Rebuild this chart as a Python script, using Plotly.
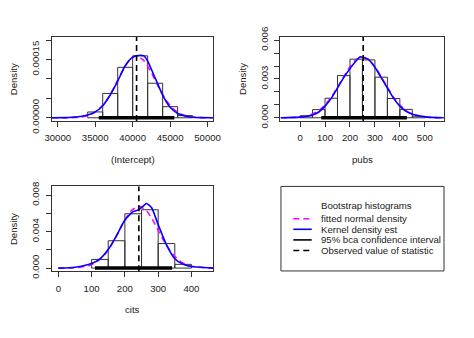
import plotly.graph_objects as go

# ---------------- data ----------------
# Panel 1: (Intercept)
int_bin_left = [34000, 36000, 38000, 40000, 42000, 44000, 46000]
int_bin_width = 2000
int_density = [1.5e-5, 6.27e-5, 1.30e-4, 1.595e-4, 8.9e-5, 2.86e-5, 5.6e-6]
int_norm_x = [29200, 31500, 32500, 33500, 34500, 35500, 36500, 37500, 38500, 39500, 40500,
              41500, 42500, 43500, 44500, 45500, 46500, 47500, 48500, 49500, 50700]
int_norm_y = [0, 0.02e-5, 0.09e-5, 0.32e-5, 0.90e-5, 2.16e-5, 4.43e-5, 7.77e-5, 11.59e-5, 14.73e-5, 15.96e-5,
              14.73e-5, 11.59e-5, 7.77e-5, 4.43e-5, 2.16e-5, 0.90e-5, 0.32e-5, 0.09e-5, 0.02e-5, 0]
int_kde_x = [29200, 31000, 32000, 33000, 34000, 35000, 36000, 37000, 38000, 39000, 40000, 40500,
             41000, 41500, 42000, 43000, 44000, 45000, 46000, 47000, 48000, 49000, 50700]
int_kde_y = [0, 0.04e-5, 0.16e-5, 0.32e-5, 0.71e-5, 1.51e-5, 3.10e-5, 5.87e-5, 9.44e-5, 13.41e-5, 15.63e-5, 15.95e-5,
             16.11e-5, 15.95e-5, 14.60e-5, 10.24e-5, 5.87e-5, 2.70e-5, 1.11e-5, 0.48e-5, 0.16e-5, 0.04e-5, 0]
int_ci = [35470, 45560]
int_obs = 40520

# Panel 2: pubs
pubs_bin_left = [0, 50, 100, 150, 200, 250, 300, 350, 400, 450]
pubs_bin_width = 50
pubs_density = [0.00016, 0.00063, 0.00151, 0.00326, 0.00453, 0.00447, 0.00314, 0.00149, 0.00065, 0.00012]
pubs_norm_x = [-78, -50, 0, 25, 50, 75, 100, 125, 150, 175, 200, 225, 250, 275, 300, 325, 350,
               375, 400, 425, 450, 500, 550, 576]
pubs_norm_y = [0.000003, 0.000009, 0.000062, 0.00014, 0.00030, 0.00056, 0.00099, 0.00159, 0.00235, 0.00318,
               0.00395, 0.00449, 0.00469, 0.00449, 0.00395, 0.00318, 0.00235, 0.00159, 0.00099, 0.00056,
               0.00030, 0.000062, 0.000009, 0.000004]
pubs_kde_x = [-78, 0, 50, 75, 100, 125, 150, 175, 200, 225, 240, 250, 275, 300, 325, 350, 375, 400, 425,
              450, 500, 576]
pubs_kde_y = [0, 0.00005, 0.00022, 0.00045, 0.0009, 0.0015, 0.0023, 0.0031, 0.0038, 0.0044, 0.0047, 0.00468,
              0.0045, 0.0039, 0.0031, 0.0023, 0.0015, 0.0009, 0.0005, 0.00028, 0.00007, 0]
pubs_ci = [85, 428]
pubs_obs = 253

# Panel 3: cits
cits_bin_left = [100, 150, 200, 250, 300, 350]
cits_bin_width = 50
cits_density = [0.00095, 0.0030, 0.00596, 0.0064, 0.00269, 0.00041]
cits_norm_x = [0, 42, 92, 117, 142, 167, 192, 217, 242, 267, 292, 317, 342, 367, 392, 442, 466]
cits_norm_y = [0.000001, 0.00002, 0.00026, 0.00071, 0.00160, 0.0030, 0.00473, 0.00621, 0.0068,
               0.00621, 0.00473, 0.0030, 0.00160, 0.00071, 0.00026, 0.00002, 0.000001]
cits_kde_x = [0, 50, 100, 125, 150, 175, 200, 225, 240, 255, 265, 280, 300, 325, 350, 375, 400, 450, 466]
cits_kde_y = [0, 0.0001, 0.00051, 0.00102, 0.00204, 0.00357, 0.00528, 0.0062, 0.00637, 0.00681, 0.00708,
              0.00664, 0.00477, 0.00255, 0.00102, 0.00041, 0.00017, 0.00003, 0]
cits_ci = [110, 342]
cits_obs = 242

panel_titles = ["(Intercept)", "pubs", "cits"]
legend_title = "Bootstrap histograms"
legend_labels = ["fitted normal density", "Kernel density est",
                 "95% bca confidence interval", "Observed value of statistic"]

# ---------------- layout helpers ----------------
W, H = 474, 338
FONT = "Liberation Sans, Arial, sans-serif"
TXT = "#1a1a1a"
AX = "#333333"
FS = 9.6
LW = 1.6
DASH = "6px,4px"


def px(x):
    return x / W


def py(y):
    return 1 - y / H


panels = [
    dict(bins=int_bin_left, bw=int_bin_width, dens=int_density, nx=int_norm_x, ny=int_norm_y,
         kx=int_kde_x, ky=int_kde_y, ci=int_ci, obs=int_obs,
         xr=[29184, 50777], yr=[-8e-6, 2.08e-4],
         xt=[30000, 35000, 40000, 45000, 50000],
         yt=[0, 5e-5, 1e-4, 1.5e-4, 2e-4], ytt=["0.00000", "", "", "0.00015", ""],
         box=(46, 212.7, 29, 119)),
    dict(bins=pubs_bin_left, bw=pubs_bin_width, dens=pubs_density, nx=pubs_norm_x, ny=pubs_norm_y,
         kx=pubs_kde_x, ky=pubs_kde_y, ci=pubs_ci, obs=pubs_obs,
         xr=[-79, 577], yr=[-0.00024, 0.00624],
         xt=[0, 100, 200, 300, 400, 500],
         yt=[0, 0.001, 0.002, 0.003, 0.004, 0.005, 0.006], ytt=["0.000", "", "", "0.003", "", "", "0.006"],
         box=(281.7, 450.3, 29, 119)),
    dict(bins=cits_bin_left, bw=cits_bin_width, dens=cits_density, nx=cits_norm_x, ny=cits_norm_y,
         kx=cits_kde_x, ky=cits_kde_y, ci=cits_ci, obs=cits_obs,
         xr=[-20, 466], yr=[-0.000344, 0.00896],
         xt=[0, 100, 200, 300, 400],
         yt=[0, 0.002, 0.004, 0.006, 0.008], ytt=["0.000", "", "0.004", "", "0.008"],
         box=(46, 212.7, 189.3, 280.3)),
]

fig = go.Figure()
layout = dict(
    width=W, height=H, margin=dict(l=0, r=0, t=0, b=0),
    paper_bgcolor="white", plot_bgcolor="white", showlegend=False,
    font=dict(family=FONT, size=FS, color=TXT),
)
shapes = []
annotations = []

for i, p in enumerate(panels, start=1):
    xa = "x" if i == 1 else f"x{i}"
    ya = "y" if i == 1 else f"y{i}"
    x0, x1, y0, y1 = p["box"]
    centers = [b + p["bw"] / 2 for b in p["bins"]]
    fig.add_trace(go.Bar(x=centers, y=p["dens"], width=[p["bw"]] * len(centers),
                         marker=dict(color="rgba(255,255,255,0)", line=dict(color=AX, width=1)),
                         xaxis=xa, yaxis=ya))
    fig.add_trace(go.Scatter(x=p["nx"], y=p["ny"], mode="lines",
                             line=dict(color="#ff00ff", width=LW, dash=DASH, shape="spline", smoothing=0.6),
                             xaxis=xa, yaxis=ya))
    fig.add_trace(go.Scatter(x=p["kx"], y=p["ky"], mode="lines",
                             line=dict(color="#0000ff", width=LW, shape="spline", smoothing=0.6),
                             xaxis=xa, yaxis=ya))
    fig.add_trace(go.Scatter(x=p["ci"], y=[0, 0], mode="lines", line=dict(color="black", width=3.5),
                             xaxis=xa, yaxis=ya))
    shapes.append(dict(type="line", xref=xa, yref=f"{ya} domain", x0=p["obs"], x1=p["obs"], y0=0, y1=1,
                       line=dict(color="black", width=LW, dash=DASH)))
    axcommon = dict(showgrid=False, zeroline=False, showline=True, mirror=True, linecolor=AX, linewidth=1,
                    ticks="outside", ticklen=5, tickcolor=AX, tickwidth=1,
                    tickfont=dict(family=FONT, size=FS, color=TXT))
    layout["xaxis" if i == 1 else f"xaxis{i}"] = dict(
        axcommon, domain=[px(x0), px(x1)], range=p["xr"], anchor=ya,
        tickvals=p["xt"], ticktext=[str(v) for v in p["xt"]], ticklabelstandoff=3)
    layout["yaxis" if i == 1 else f"yaxis{i}"] = dict(
        axcommon, domain=[py(y1), py(y0)], range=p["yr"], anchor=xa,
        tickvals=p["yt"], ticktext=p["ytt"], tickangle=-90, ticklabelstandoff=3)
    # axis titles
    annotations.append(dict(text=panel_titles[i - 1], xref="paper", yref="paper",
                            x=px((x0 + x1) / 2), y=py(y1 + 41), xanchor="center", yanchor="middle",
                            showarrow=False, font=dict(size=FS, color=TXT)))
    annotations.append(dict(text="Density", xref="paper", yref="paper", textangle=-90,
                            x=px(x0 - 38.5), y=py((y0 + y1) / 2), xanchor="center", yanchor="middle",
                            showarrow=False, font=dict(size=FS, color=TXT)))

# legend box (manual, like R's legend())
shapes.append(dict(type="rect", xref="paper", yref="paper", x0=px(282.3), x1=px(450.3),
                   y0=py(280), y1=py(189.3), line=dict(color=AX, width=1)))
annotations.append(dict(text=legend_title, xref="paper", yref="paper", x=px(321), y=py(209.7),
                        xanchor="left", yanchor="middle", showarrow=False, font=dict(size=FS, color=TXT)))
leg_styles = [("#ff00ff", DASH), ("#0000ff", "solid"), ("black", "solid"), ("black", DASH)]
leg_y = [224, 235.3, 246.7, 258]
for (col, dash), lab, yy in zip(leg_styles, legend_labels, leg_y):
    shapes.append(dict(type="line", xref="paper", yref="paper", x0=px(295), x1=px(314), y0=py(yy), y1=py(yy),
                       line=dict(color=col, width=LW, dash=dash)))
    annotations.append(dict(text=lab, xref="paper", yref="paper", x=px(321), y=py(yy),
                            xanchor="left", yanchor="middle", showarrow=False, font=dict(size=FS, color=TXT)))

layout["shapes"] = shapes
layout["annotations"] = annotations
fig.update_layout(**layout)
fig.write_html("out.html")
